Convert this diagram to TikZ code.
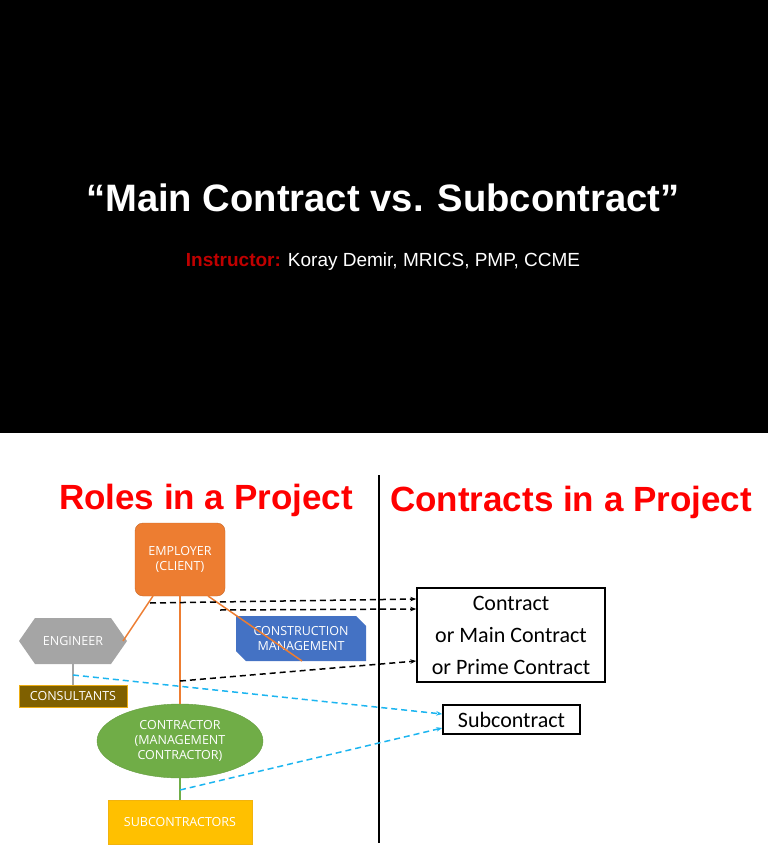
\documentclass[tikz,border=0pt]{standalone}
\usepackage{fontspec}
\setmainfont{Liberation Sans}
\newfontfamily\calfnt{Carlito}
\newfontfamily\opnfnt{Open Sans}
\usetikzlibrary{shapes.geometric,shapes.misc,arrows.meta}
\definecolor{org}{HTML}{ED7D31}
\definecolor{gry}{HTML}{A5A5A5}
\definecolor{brn}{HTML}{7F6000}
\definecolor{blu}{HTML}{4472C4}
\definecolor{grn}{HTML}{70AD47}
\definecolor{yel}{HTML}{FFC000}
\definecolor{cyn}{HTML}{1CB5F0}
\definecolor{ired}{HTML}{C00000}
\tikzset{
 lbl/.style={text=white,font=\opnfnt\fontsize{12.5}{15}\selectfont,align=center,inner sep=0},
 ol/.style={org,line width=1.5pt},
 bk/.style={line width=1.5pt,-{Stealth[length=6pt]},dash pattern=on 6pt off 4pt},
 cy/.style={cyn,line width=1.5pt,-{Stealth[length=6pt]},dash pattern=on 6pt off 4pt},
 cbox/.style={draw=black,line width=1.5pt,fill=white,font=\calfnt\fontsize{22}{32}\selectfont,align=center}
}
\begin{document}
\begin{tikzpicture}[x=1pt,y=-1pt]
\useasboundingbox (0,0) rectangle (768,866);
\fill[black] (0,0) rectangle (768,433);
\node (title) at (383,198) {\fontsize{38.2}{42}\selectfont\bfseries\color{white}“Main Contract vs. Subcontract”};
\node (instr) at (383,262) {\fontsize{19}{22}\selectfont\textcolor{ired}{\bfseries Instructor:} \textcolor{white}{Koray Demir, MRICS, PMP, CCME}};
\node (roles) at (206,500) {\fontsize{35}{38}\selectfont\bfseries\color{red}Roles in a Project};
\node (ctrs) at (571,502) {\fontsize{35}{38}\selectfont\bfseries\color{red}Contracts in a Project};
\draw[line width=2pt] (379,475) coordinate (vt) -- (379,843) coordinate (vb);
% nodes
\node (emp) [fill=org,draw=org!85!black,rounded corners=8pt,minimum width=90pt,minimum height=73pt,lbl] at (180,559.5) {EMPLOYER\\(CLIENT)};
\fill[gry] (19,641) -- (35,618) -- (111,618) -- (127,641) -- (111,664) -- (35,664) -- cycle;
\node (eng) [lbl,minimum width=108pt,minimum height=46pt] at (73,641) {ENGINEER};
\node (cons) [fill=brn,draw=yel!70!brown,minimum width=108pt,minimum height=22pt,lbl] at (73,696) {CONSULTANTS};
\fill[blu] (236,616) -- (356,616) -- (366,626) -- (366,661) -- (246,661) -- (236,651) -- cycle;
\node (cm) [lbl] at (301,638.5) {CONSTRUCTION\\MANAGEMENT};
\node (ctr) [ellipse,fill=grn,minimum width=166pt,minimum height=74pt,inner sep=0,lbl,draw=grn!90!black] at (180,741) {CONTRACTOR\\(MANAGEMENT\\CONTRACTOR)};
\node (sub) [fill=yel,draw=yel!80!brown,minimum width=144pt,minimum height=44pt,lbl] at (180,822) {SUBCONTRACTORS};
\node (cbox) [cbox,minimum width=188pt,minimum height=94pt,inner sep=2pt] at (511,635) {Contract\\or Main Contract\\or Prime Contract};
\node (sbox) [cbox,minimum width=137pt,minimum height=29pt,inner sep=0,font=\calfnt\fontsize{22}{24}\selectfont] at (511.5,719.5) {Subcontract};
% connectors
\draw[ol] (153,596) -- (123,641);
\draw[ol] (emp.south) -- (ctr.north);
\draw[ol] (208,596) -- (302,661);
\draw[gry,line width=1.5pt] (eng.south) -- (cons.north);
\draw[grn,line width=1.5pt] (ctr.south) -- (sub.north);
\draw[bk] (150,603) -- (cbox.west |- 0,599);
\draw[bk] (220,610) -- (cbox.west |- 0,609);
\draw[bk] (180,681) -- (cbox.west |- 0,661);
\draw[cy] (73,675) -- (sbox.west |- 0,714);
\draw[cy] (180,790) -- (sbox.west |- 0,728);
\end{tikzpicture}
\end{document}
